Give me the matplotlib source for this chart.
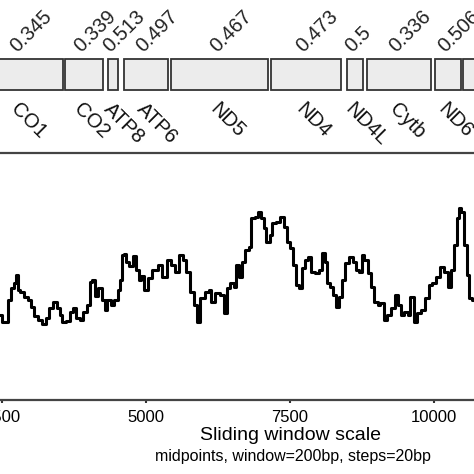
import matplotlib
matplotlib.use("Agg")
import matplotlib.pyplot as plt
from matplotlib.patches import Rectangle

plt.rcParams['font.family'] = ['Liberation Sans', 'DejaVu Sans']

# gene map
genes = ["CO1", "CO2", "ATP8", "ATP6", "ND5", "ND4", "ND4L", "Cytb", "ND6", "ND1"]
gene_start = [2065, 3585, 4340, 4618, 5434, 7170, 8489, 8836, 10016, 10503]
gene_end = [3559, 4245, 4513, 5381, 7117, 8385, 8767, 9947, 10468, 11600]
gene_pi = ["0.345", "0.339", "0.513", "0.497", "0.467", "0.473", "0.5", "0.336", "0.506", ""]

# sliding window values (midpoints, bp)
midpoints = [
    2460, 2540, 2580, 2620, 2680, 2720, 2760, 2800, 2840, 2920,
    2980, 3040, 3080, 3160, 3220, 3300, 3340, 3420, 3480, 3520,
    3580, 3640, 3720, 3760, 3820, 3880, 3940, 4000, 4040, 4100,
    4140, 4200, 4260, 4300, 4360, 4420, 4480, 4540, 4560, 4600,
    4640, 4680, 4740, 4800, 4840, 4900, 4940, 5000, 5060, 5160,
    5240, 5320, 5420, 5460, 5540, 5620, 5680, 5720, 5800, 5860,
    5900, 5980, 6060, 6120, 6140, 6240, 6320, 6380, 6420, 6500,
    6540, 6600, 6640, 6680, 6760, 6800, 6860, 6920, 6980, 7020,
    7060, 7120, 7180, 7200, 7300, 7360, 7420, 7460, 7540, 7580,
    7640, 7680, 7720, 7800, 7840, 7900, 7960, 8040, 8080, 8120,
    8180, 8220, 8280, 8320, 8380, 8440, 8480, 8560, 8620, 8660,
    8740, 8760, 8820, 8880, 8920, 9000, 9040, 9100, 9160, 9220,
    9280, 9360, 9400, 9440, 9520, 9560, 9620, 9680, 9740, 9820,
    9880, 9940, 10000, 10060, 10140, 10200, 10280, 10320, 10380, 10420,
    10460, 10480, 10560, 10580, 10640, 10680,
]
pi = [
    0.0425, 0.039, 0.039, 0.05, 0.056, 0.0585, 0.0625, 0.055, 0.054, 0.0515,
    0.05, 0.0465, 0.042, 0.04, 0.038, 0.041, 0.046, 0.049, 0.046, 0.0425,
    0.039, 0.0395, 0.044, 0.046, 0.041, 0.04, 0.044, 0.0475, 0.059, 0.06,
    0.052, 0.056, 0.05, 0.045, 0.05, 0.0475, 0.05, 0.055, 0.06, 0.0725,
    0.073, 0.069, 0.067, 0.072, 0.065, 0.06, 0.062, 0.055, 0.061, 0.065,
    0.0675, 0.0615, 0.07, 0.0675, 0.064, 0.0725, 0.07, 0.064, 0.054, 0.0475,
    0.039, 0.051, 0.054, 0.055, 0.049, 0.0535, 0.0525, 0.0435, 0.056, 0.0585,
    0.0565, 0.0675, 0.0615, 0.069, 0.075, 0.0765, 0.091, 0.0915, 0.094, 0.091,
    0.086, 0.079, 0.0825, 0.0885, 0.089, 0.0915, 0.0865, 0.079, 0.076, 0.0675,
    0.0575, 0.056, 0.066, 0.07, 0.0715, 0.064, 0.0635, 0.065, 0.0735, 0.069,
    0.0585, 0.0565, 0.0525, 0.0465, 0.0515, 0.06, 0.0685, 0.0715, 0.069, 0.065,
    0.064, 0.0725, 0.07, 0.0635, 0.0565, 0.049, 0.0475, 0.0485, 0.04, 0.0425,
    0.046, 0.0525, 0.0475, 0.0425, 0.044, 0.0425, 0.0515, 0.039, 0.0435, 0.045,
    0.051, 0.0575, 0.0585, 0.0615, 0.0665, 0.064, 0.0565, 0.065, 0.0775, 0.091,
    0.096, 0.094, 0.0775, 0.0625, 0.051, 0.05,
]
xticks = [2500, 5000, 7500, 10000]

H = 474.0
fig = plt.figure(figsize=(4.74, 4.74), dpi=100)

XMIN, XMAX = 2465, 10694

# --- gene map panel ---
ax_top = fig.add_axes([0, (H - 153) / H, 1, 153 / H])
ax_top.set_xlim(XMIN, XMAX)
ax_top.set_ylim(0, 9.87)
for s in ["top", "left", "right"]:
    ax_top.spines[s].set_visible(False)
ax_top.spines["bottom"].set_color("#444444")
ax_top.spines["bottom"].set_linewidth(1.6)
ax_top.set_xticks([])
ax_top.set_yticks([])

for name, a, b, v in zip(genes, gene_start, gene_end, gene_pi):
    ax_top.add_patch(Rectangle((a, 4.06), b - a, 2.0, facecolor="#ececec",
                               edgecolor="#333333", linewidth=1.3))
    c = (a + b) / 2
    if v:
        ax_top.annotate(v, (c, 6.55), xytext=(-9.5, -3), textcoords="offset points",
                        rotation=45, ha="left", va="bottom", fontsize=14.5,
                        color="#222222", annotation_clip=False)
        ax_top.annotate(name, (c, 3.6), xytext=(-9.5, -1.5), textcoords="offset points",
                        rotation=-45, ha="left", va="top", fontsize=14.5,
                        color="#111111", annotation_clip=False)

# --- sliding window panel ---
ax = fig.add_axes([0, (H - 400) / H, 1, 240 / H])
ax.plot(midpoints, pi, color="black", linewidth=2.2, drawstyle="steps-mid")
ax.set_xlim(XMIN, XMAX)
ax.set_ylim(0, 0.12)
for s in ["top", "left", "right"]:
    ax.spines[s].set_visible(False)
ax.spines["bottom"].set_color("#444444")
ax.spines["bottom"].set_linewidth(1.6)
ax.set_yticks([])
ax.set_xticks(xticks)
ax.set_xticklabels([str(t) for t in xticks])
ax.tick_params(axis="x", length=2.5, width=1.5, color="#333333",
               labelsize=12, pad=5)

fig.text(291 / 474, 1 - 436 / H, "Sliding window scale", ha="center",
         va="center", fontsize=14)
fig.text(293 / 474, 1 - 456 / H, "midpoints, window=200bp, steps=20bp",
         ha="center", va="center", fontsize=11.5)

fig.savefig("out.png", dpi=100)
